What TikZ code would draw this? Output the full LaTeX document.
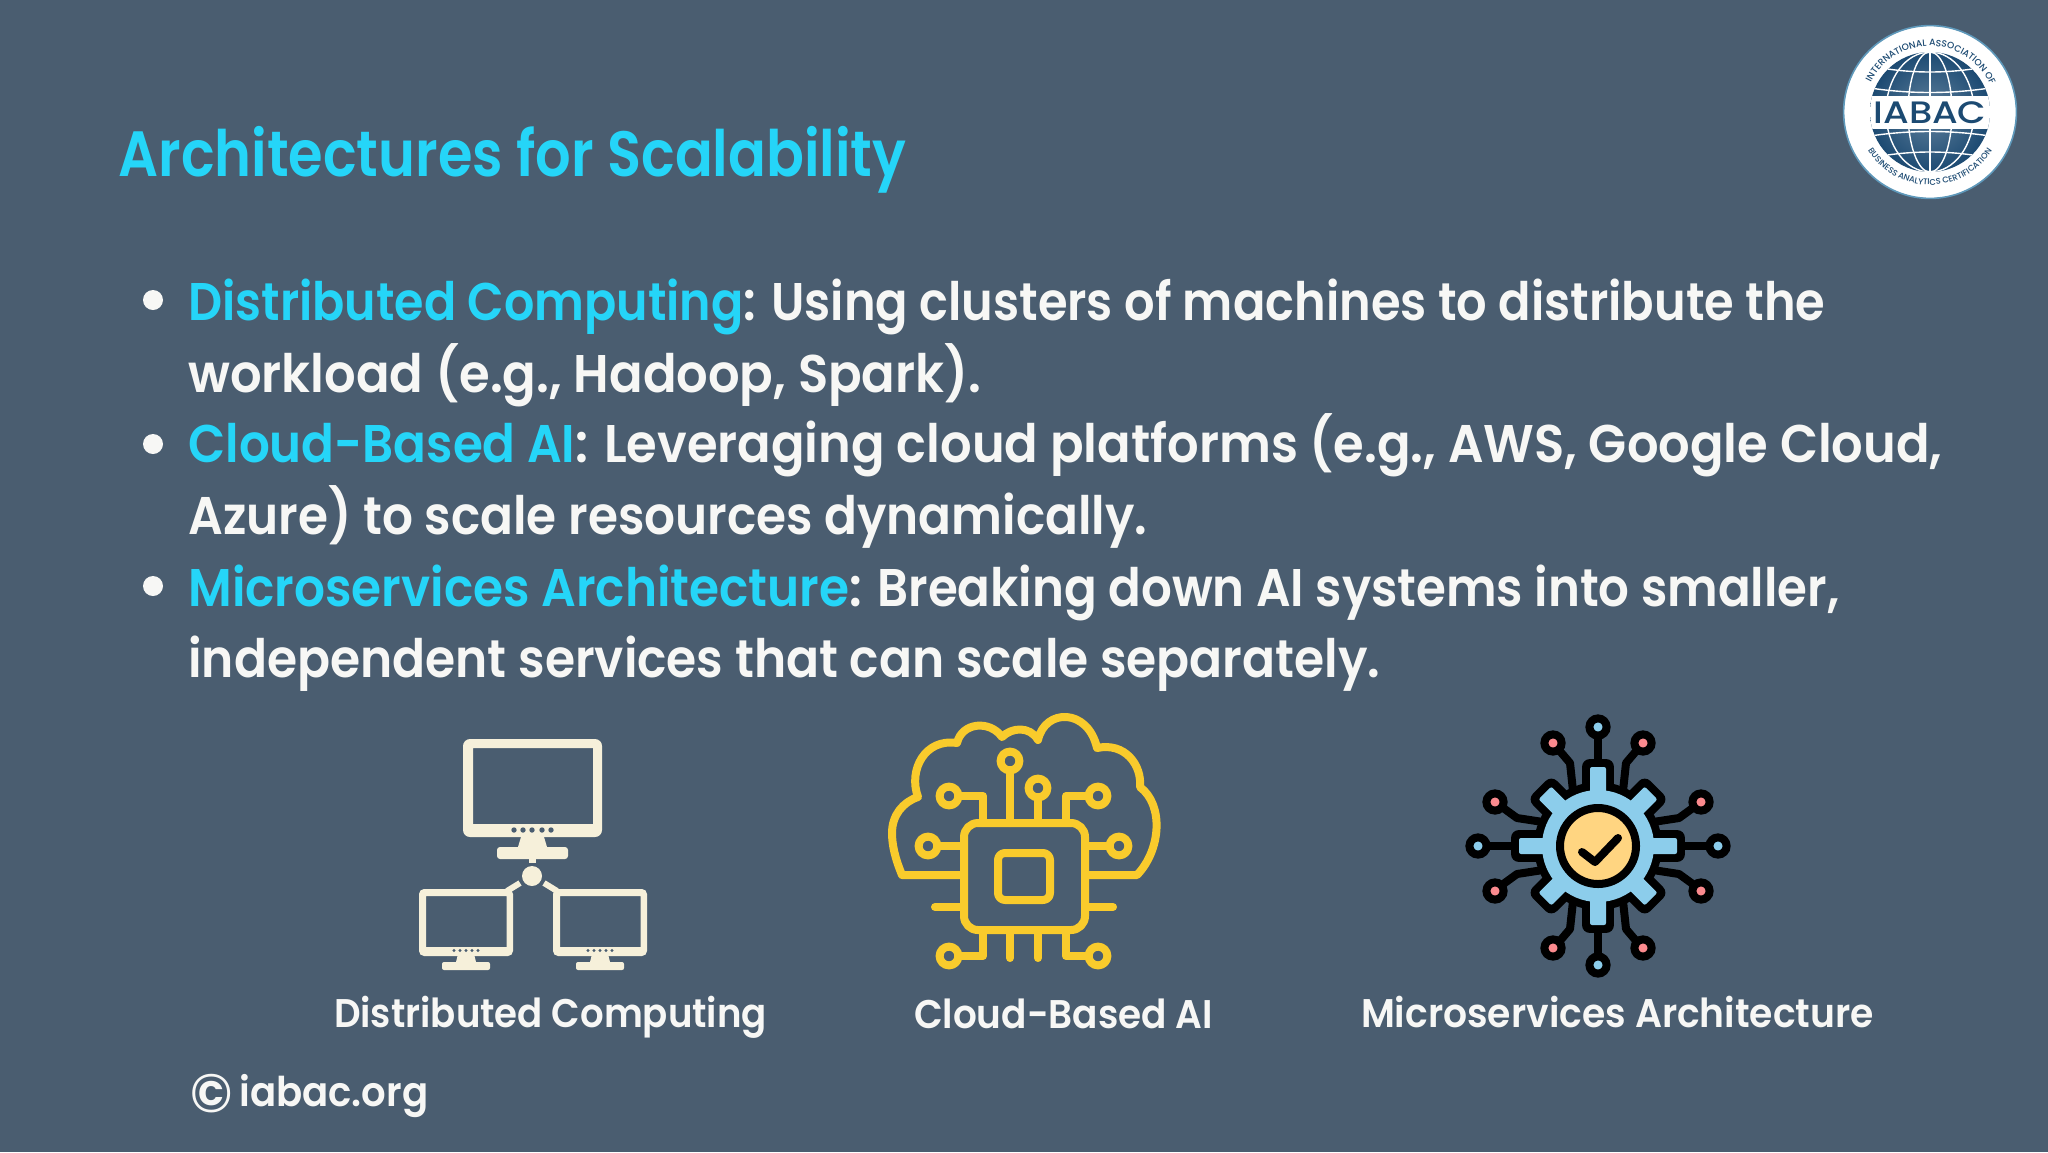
\documentclass[tikz,border=0pt]{standalone}
\usepackage{graphicx}
\usepackage{fontspec}
\setmainfont{Poppins SemiBold}
\newfontfamily\logoface{Poppins Medium}
\usetikzlibrary{decorations.text}
\definecolor{bgc}{HTML}{4A5D70}
\definecolor{cyanc}{HTML}{25D5F8}
\definecolor{textc}{HTML}{F7F7F5}
\definecolor{creamc}{HTML}{F6F0DA}
\definecolor{goldc}{HTML}{F9CB2C}
\definecolor{gearc}{HTML}{8CCDEB}
\definecolor{pinkc}{HTML}{FB8A8E}
\definecolor{yelc}{HTML}{FFD581}
\definecolor{logoc}{HTML}{1C4A72}
\newcommand{\fitw}[2]{\setbox0=\hbox{#2}\pgfmathsetmacro{\myr}{#1*0.5/\the\wd0}\scalebox{\myr}[1]{\box0}}
\newcommand{\cy}[1]{\textcolor{cyanc}{#1}}
\newcommand{\logotop}{\logoface\fontsize{4.6}{5}\selectfont\color{logoc}}
\newcommand{\logobot}{\logoface\fontsize{4.15}{5}\selectfont\color{logoc}}
\tikzset{
  bodytext/.style={anchor=base west,inner sep=0pt,text=textc,font=\fontsize{26.5}{30}\selectfont},
  iconcap/.style={anchor=base,inner sep=0pt,text=textc,font=\fontsize{20}{24}\selectfont},
  wire/.style={draw=goldc,line width=4pt,line cap=round,line join=round},
  blk/.style={draw=black,line width=4pt,line cap=round,line join=round},
  cream/.style={fill=creamc,draw=none},
}
\begin{document}
\begin{tikzpicture}[x=0.5pt,y=-0.5pt]
\useasboundingbox (0,0) rectangle (2048,1152);
\fill[bgc] (0,0) rectangle (2048,1152);
% title
\node[anchor=base west,inner sep=0pt,text=cyanc,font=\fontsize{32}{36}\selectfont] (title) at (118,176) {\fitw{788}{Architectures for Scalability}};
% bullets
\foreach \y/\n in {300/a,444/b,586/c} \fill[textc] (153,\y) circle (5pt);
\node[bodytext] (l1) at (188,320) {\fitw{555}{\cy{Distributed Computing}}\fitw{1082}{: Using clusters of machines to distribute the}};
\node[bodytext] (l2) at (188,392) {\fitw{793}{workload (e.g., Hadoop, Spark).}};
\node[bodytext] (l3) at (188,462) {\fitw{387}{\cy{Cloud-Based AI}}\fitw{1367}{: Leveraging cloud platforms (e.g., AWS, Google Cloud,}};
\node[bodytext] (l4) at (188,534) {\fitw{959}{Azure) to scale resources dynamically.}};
\node[bodytext] (l5) at (188,606) {\fitw{661}{\cy{Microservices Architecture}}\fitw{990}{: Breaking down AI systems into smaller,}};
\node[bodytext] (l6) at (188,677) {\fitw{1192}{independent services that can scale separately.}};
% captions
\node[iconcap] (c1) at (550.5,1027) {\fitw{433}{Distributed Computing}};
\node[iconcap] (c2) at (1063.5,1028) {\fitw{299}{Cloud-Based AI}};
\node[iconcap] (c3) at (1617.5,1027) {\fitw{513}{Microservices Architecture}};
% footer
\node[anchor=center,inner sep=0pt,text=textc,font=\fontsize{27}{30}\selectfont] (copy) at (212,1094) {©};
\node[anchor=base west,inner sep=0pt,text=textc,font=\fontsize{20.5}{24}\selectfont] (foot) at (239,1106) {\fitw{189}{iabac.org}};
% ---------- icon 1: monitors
\fill[cream,rounded corners=3.5pt,even odd rule] (463,739) rectangle (602,837) [sharp corners] (473,748) rectangle (593,824);
\foreach \x in {514,523,532,542,551} \fill[bgc] (\x,830) circle (1.35pt);
\fill[cream] (521,837) -- (518,847) -- (547,847) -- (544,837) -- cycle;
\fill[cream,rounded corners=1.5pt] (497,859) -- (497,847) -- (568,847) -- (568,859) -- cycle;
\fill[cream] (529,859) rectangle (536,863);
\fill[cream] (532,876) circle (5pt);
\draw[creamc,line width=3pt] (520,883) -- (507,891);
\draw[creamc,line width=3pt] (544,883) -- (557,891);
\foreach \ox/\cx in {419/466,553/600}{
  \fill[cream,rounded corners=2.5pt,even odd rule] (\ox,889) rectangle ++(94,67) [sharp corners] (\ox+7,896) rectangle ++(80.5,51);
  \foreach \d in {-12,-6,0,6,12} \fill[bgc] (\cx+\d,950.5) circle (0.85pt);
  \fill[cream] (\cx-8.5,956) -- (\cx-10,962) -- (\cx+10,962) -- (\cx+8.5,956) -- cycle;
  \fill[cream,rounded corners=1pt] (\cx-24,970) -- (\cx-24,962) -- (\cx+24,962) -- (\cx+24,970) -- cycle;
}
% ---------- icon 2: cloud chip
\draw[wire] (964,875) -- (902,875) .. controls (895,858) and (892,845) .. (892,833)
  .. controls (892,815) and (903,802) .. (918,797)
  .. controls (908,770) and (925,738) .. (957,743)
  .. controls (962,722) and (990,720) .. (1002,737)
  .. controls (1012,727) and (1030,726) .. (1038,740)
  .. controls (1045,708) and (1088,708) .. (1097,748)
  .. controls (1125,742) and (1142,765) .. (1140,787)
  .. controls (1164,805) and (1161,850) .. (1137,875) -- (1085,875);
\draw[wire,rounded corners=7pt] (964,823) rectangle (1085,930);
\draw[wire,rounded corners=3.5pt] (998,853) rectangle (1050,900);
\foreach \x/\y in {949/796,1010/761,1038/788,1098/796,928/846,1119/846,949/956,1098/956}
  \draw[wire] (\x,\y) circle (4.7pt);
\draw[wire] (958,796) -- (983,796) -- (983,823);
\draw[wire] (1010,770) -- (1010,823);
\draw[wire] (1038,797) -- (1038,823);
\draw[wire] (1089,796) -- (1066,796) -- (1066,823);
\draw[wire] (937,846) -- (964,846);
\draw[wire] (1110,846) -- (1085,846);
\draw[wire] (964,907) -- (935,907);
\draw[wire] (1085,907) -- (1113,907);
\draw[wire] (983,930) -- (983,956) -- (958,956);
\draw[wire] (1010,930) -- (1010,958);
\draw[wire] (1038,930) -- (1038,958);
\draw[wire] (1066,930) -- (1066,956) -- (1089,956);
% ---------- icon 3: gear
\begin{scope}[shift={(1598,846)}]
  \foreach \sx in {-1,1} \foreach \sy in {-1,1}{
    \draw[blk] (\sx*45,\sy*103) -- (\sx*28,\sy*83) -- (\sx*25,\sy*55);
    \draw[blk] (\sx*103,\sy*44) -- (\sx*81,\sy*28) -- (\sx*55,\sy*24);
  }
  \draw[blk] (0,-119) -- (0,-80);
  \draw[blk] (0,119) -- (0,80);
  \draw[blk] (-120,0) -- (-80,0);
  \draw[blk] (120,0) -- (80,0);
  \foreach \a/\t/\h in {0/79/8,90/79/8,180/79/8,270/79/8,45/75/9,135/75/9,225/75/9,315/75/9}{
    \draw[black,line width=8pt,line join=round,rotate=\a] (40,-\h) rectangle (\t,\h);
  }
  \draw[black,line width=8pt] (0,0) circle (28pt);
  \foreach \a/\t/\h in {0/79/8,90/79/8,180/79/8,270/79/8,45/75/9,135/75/9,225/75/9,315/75/9}{
    \fill[gearc,rotate=\a,rounded corners=1pt] (40,-\h) rectangle (\t,\h);
  }
  \fill[gearc] (0,0) circle (28pt);
  \draw[black,line width=4pt,fill=yelc] (0,0) circle (19pt);
  \draw[blk] (-16,6) -- (-3,16) -- (20,-8);
\end{scope}
\foreach \x/\y in {1598/727,1598/965,1478/846,1718/846}
  \draw[black,line width=4pt,fill=gearc] (\x,\y) circle (4.3pt);
\foreach \x/\y in {1553/743,1643/743,1495/802,1701/802,1495/891,1701/891,1553/948,1643/948}
  \draw[black,line width=4pt,fill=pinkc] (\x,\y) circle (4.3pt);
% ---------- logo
\begin{scope}[shift={(1930,112)},x=0.5pt,y=0.5pt]
  \fill[white] (0,0) circle (43pt);
  \draw[draw=gearc!60!logoc,line width=0.8pt] (0,0) circle (43.2pt);
  \begin{scope}
    \clip (0,0) circle (30pt);
    \shade[inner color=logoc!70!white,outer color=logoc] (-60,-60) rectangle (60,60);
    \foreach \rx in {0,22,44} \draw[white,line width=0.7pt] (0,0) ellipse ({\rx*0.5pt} and 30pt);
    \foreach \s in {1,-1}{
      \draw[white,line width=0.7pt] (-60,\s*24) .. controls (-20,\s*18) and (20,\s*18) .. (60,\s*24);
      \draw[white,line width=0.7pt] (-60,\s*46) .. controls (-20,\s*38) and (20,\s*38) .. (60,\s*46);
    }
    \fill[white] (-60,-17) rectangle (60,16);
  \end{scope}
  \node[anchor=base,inner sep=0pt,text=logoc,font=\logoface\fontsize{15.5}{18}\selectfont] (logo) at (0,-11) {\fitw{113}{IABAC}};
  \path[decorate,decoration={text along path,text align=center,
    text={|\logotop|INTERNATIONAL ASSOCIATION OF}}] (165:66) arc (165:13:66);
  \path[decorate,decoration={text along path,text align=center,
    text={|\logobot|BUSINESS ANALYTICS CERTIFICATION}}] (198:73) arc (198:342:73);
\end{scope}
\end{tikzpicture}
\end{document}
